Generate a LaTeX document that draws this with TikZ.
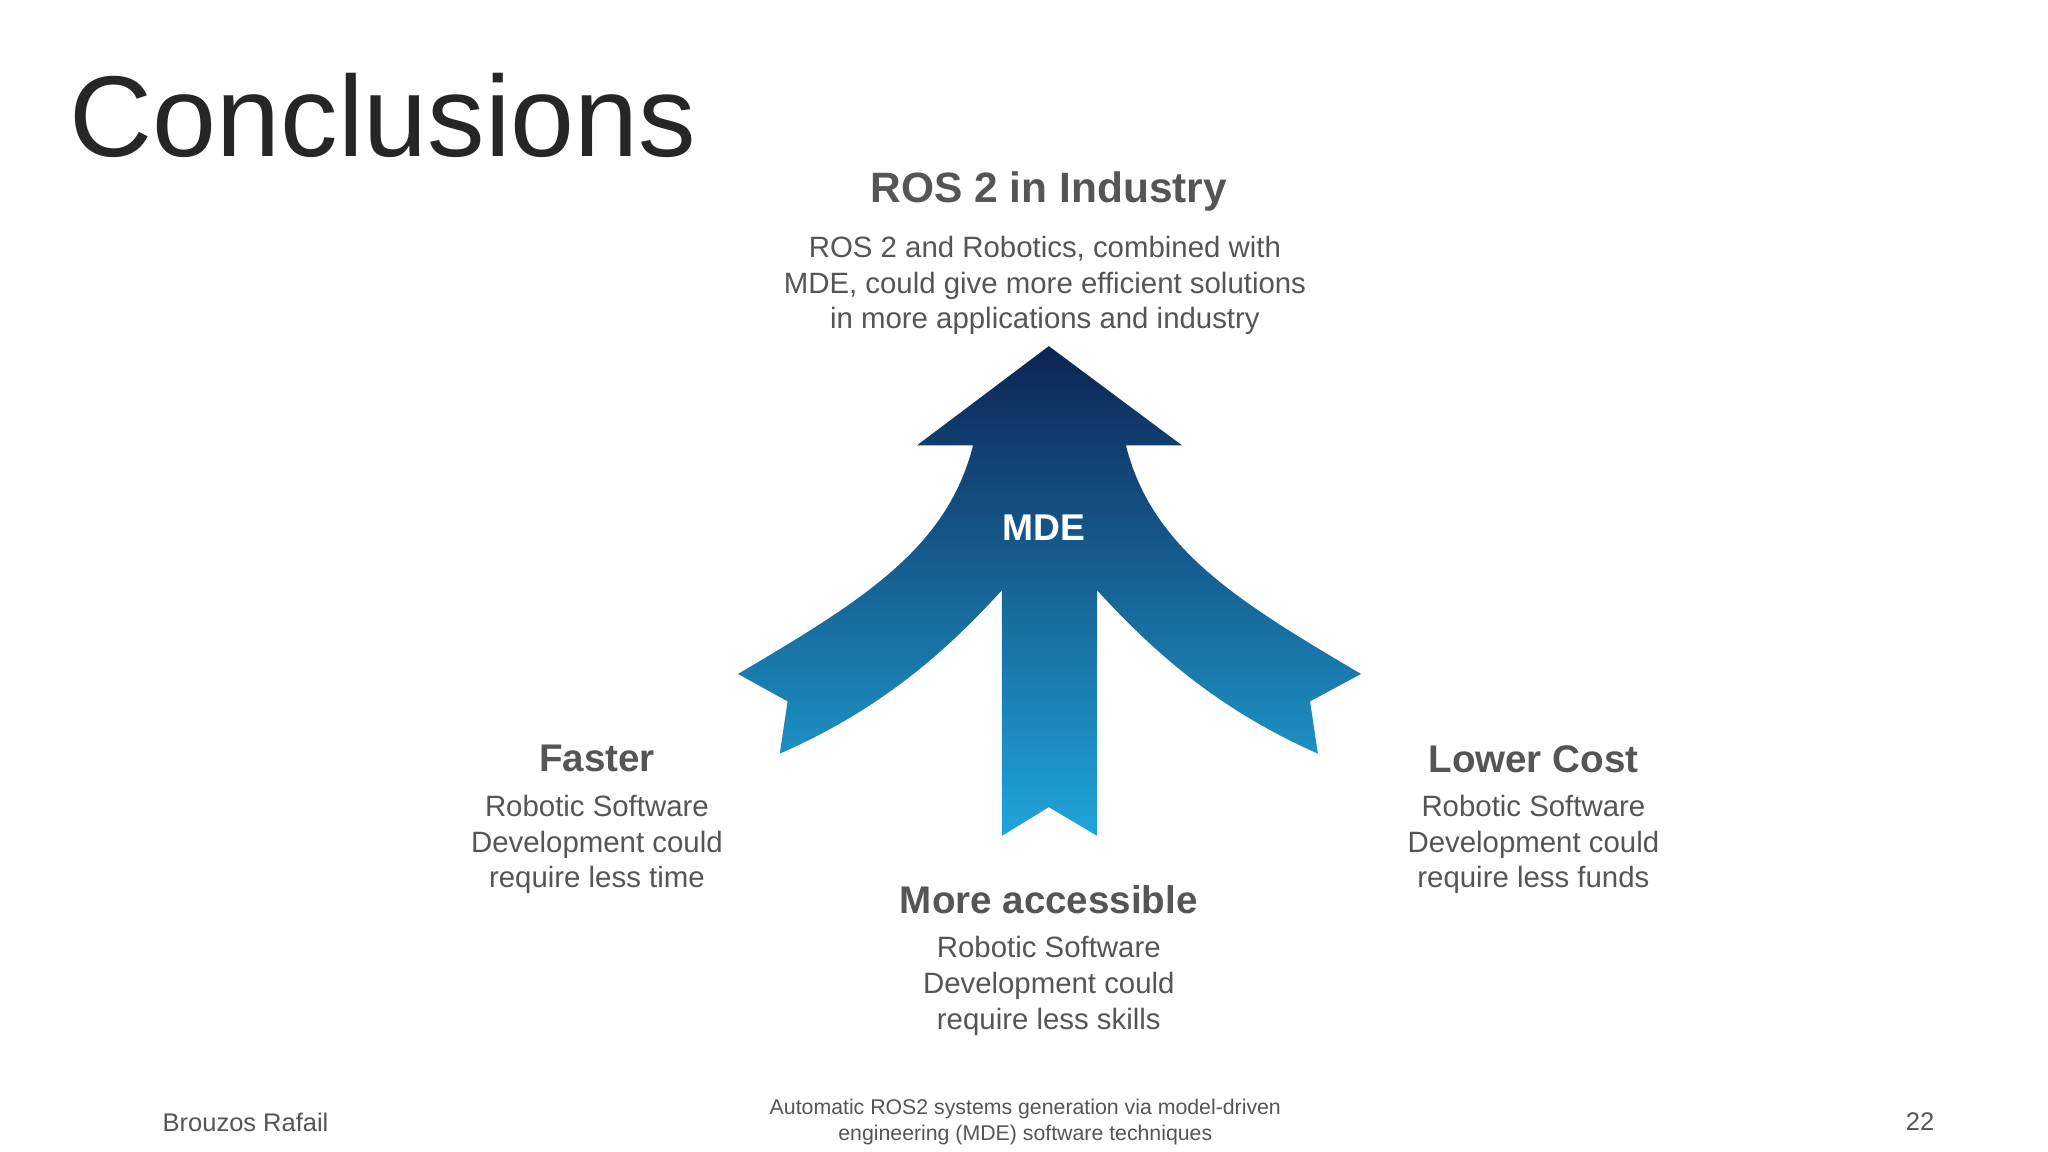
\documentclass[tikz,border=0pt]{standalone}
\usepackage{fontspec}
\setmainfont{Liberation Sans}
\definecolor{txt}{HTML}{555555}
\definecolor{dark}{HTML}{0D2454}
\definecolor{light}{HTML}{20A6DA}
\begin{document}
\begin{tikzpicture}[x=1pt,y=-1pt,
  head/.style={text=txt,font=\fontsize{29.5}{32}\selectfont\bfseries,anchor=center},
  body/.style={text=txt,font=\fontsize{22.5}{27.5}\selectfont,align=center,anchor=north},
  foot/.style={text=txt,align=center}]
\useasboundingbox (0,0) rectangle (1568,882);
\fill[white] (0,0) rectangle (1568,882);
\node[anchor=west,text=black!85,font=\fontsize{88}{94}\selectfont] (title) at (50,88) {Conclusions};
% arrow
\shade[top color=dark,bottom color=light]
 (565,516) .. controls (660,460) and (725,420) .. (745,341)
 -- (702,341) -- (803,265) -- (905,341) -- (862,341)
 .. controls (882,420) and (947,460) .. (1042,516)
 -- (1003,537) -- (1009,577)
 .. controls (925,540) and (875,490) .. (840,452)
 -- (840,640) -- (803,618) -- (767,640) -- (767,452)
 .. controls (732,490) and (682,540) .. (597,577)
 -- (603,537) -- cycle;
\node[text=white,font=\fontsize{28.5}{30}\selectfont\bfseries] (mde) at (799,404) {MDE};
\node[head,font=\fontsize{32.5}{34}\selectfont\bfseries] (ros) at (803,147) {ROS 2 in Industry};
\node[body] (rost) at (800,177) {ROS 2 and Robotics, combined with\\MDE, could give more efficient solutions\\in more applications and industry};
\node[head] (fast) at (457,581) {Faster};
\node[body] (fastt) at (457,605) {Robotic Software\\Development could\\require less time};
\node[head] (cost) at (1174,581) {Lower Cost};
\node[body] (costt) at (1174,605) {Robotic Software\\Development could\\require less funds};
\node[head] (acc) at (803,689) {More accessible};
\node[body] (acct) at (803,713) {Robotic Software\\Development could\\require less skills};
\node[foot,font=\fontsize{19.5}{22}\selectfont] (auth) at (188,859) {Brouzos Rafail};
\node[foot,font=\fontsize{16.3}{19.5}\selectfont] (sub) at (785,859) {Automatic ROS2 systems generation via model-driven\\engineering (MDE) software techniques};
\node[foot,font=\fontsize{19.5}{22}\selectfont] (num) at (1470,859) {22};
\end{tikzpicture}
\end{document}
